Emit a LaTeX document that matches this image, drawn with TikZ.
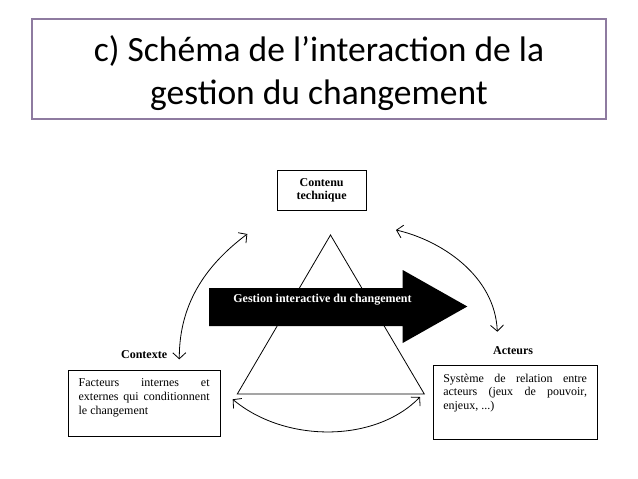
\documentclass[tikz,border=0pt]{standalone}
\usepackage{fontspec}
\setmainfont{Liberation Serif}
\newfontfamily\titlefont{Carlito}
\usetikzlibrary{positioning,arrows.meta}
\definecolor{titleframe}{HTML}{8E7BA0}
\hyphenpenalty=10000

\begin{document}
\begin{tikzpicture}[x=1pt, y=-1pt, line width=0.8pt, >={Straight Barb[length=6pt,width=13pt]}]

\fill [white] (0,0) rectangle (638,479);
\useasboundingbox (0,0) rectangle (638,479);

\node [draw=titleframe, line width=1.5pt, minimum width=574pt, minimum height=100pt, align=center, font=\titlefont\fontsize{35.5}{43}\selectfont] (title) at (319,69) {\rule{0pt}{34pt}c) Schéma de l’interaction de la\\gestion du changement};

\node [draw, minimum width=88.7pt, minimum height=40pt, align=center, font=\bfseries\fontsize{12}{13.3}\selectfont] (contenu) at (321.6,190) {Contenu\\technique};
\node [draw, anchor=north west, text width=131pt, text depth=40.8pt, inner xsep=10.5pt, inner ysep=8.5pt, align=justify, font=\fontsize{12}{13.7}\selectfont] (facteurs) at (67.7,370) {Facteurs internes et externes qui conditionnent le changement};
\node [draw, anchor=north west, text width=143.7pt, text depth=48.8pt, inner xsep=10.2pt, inner ysep=8.5pt, align=justify, font=\fontsize{12}{13.7}\selectfont] (systeme) at (432.7,365) {Système de relation entre acteurs (jeux de pouvoir, enjeux, ...)};
\node [font=\bfseries\fontsize{12}{14}\selectfont, above=8pt of facteurs] (contexte) {Contexte};
\node [font=\bfseries\fontsize{12}{14}\selectfont, above=7pt of systeme, xshift=-2pt] (acteurs) {Acteurs};

\coordinate (apex) at (330.5,235);
\coordinate (leftcorner) at (237.3,394);
\coordinate (rightcorner) at (424.3,394);
\draw (apex) -- (leftcorner) -- (rightcorner) -- cycle;

\fill (209,288) -- (402.7,288) -- (402.7,270) -- (467.3,306.5) -- (402.7,343) -- (402.7,326) -- (209,326) -- cycle;
\node [text=white, font=\bfseries\fontsize{12}{14}\selectfont] (gestion) at (322.5,300) {Gestion interactive du changement};

\coordinate (ctxtop) at (247.3,234);
\coordinate (ctxbottom) at (179.3,359.3);
\coordinate (acttop) at (396,230);
\coordinate (actbottom) at (497.3,331.7);
\coordinate (baseleft) at (232.7,399.3);
\coordinate (baseright) at (420,397);

\draw [<->] (ctxbottom) .. controls (179,300) and (210,262) .. (ctxtop);
\draw [<->] (acttop) .. controls (440,240) and (495,275) .. (actbottom);
\draw [<->] (baseleft) .. controls (285,443) and (375,443) .. (baseright);

\end{tikzpicture}
\end{document}
